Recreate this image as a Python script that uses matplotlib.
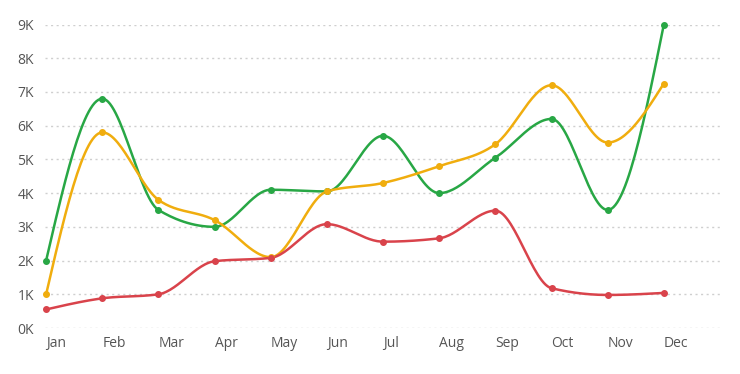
import numpy as np
import matplotlib
matplotlib.use("Agg")
import matplotlib.pyplot as plt

months = ["Jan", "Feb", "Mar", "Apr", "May", "Jun",
          "Jul", "Aug", "Sep", "Oct", "Nov", "Dec"]
green_vals = [2000, 6800, 3500, 3000, 4100, 4050, 5700, 4000, 5050, 6200, 3500, 9000]
orange_vals = [1000, 5800, 3800, 3200, 2100, 4050, 4300, 4800, 5450, 7200, 5500, 7250]
red_vals = [550, 880, 1000, 1980, 2080, 3080, 2560, 2660, 3480, 1180, 980, 1040]
y_ticks = [0, 1000, 2000, 3000, 4000, 5000, 6000, 7000, 8000, 9000]
y_labels = ["0K", "1K", "2K", "3K", "4K", "5K", "6K", "7K", "8K", "9K"]

series = [
    (green_vals, "#28a745"),
    (orange_vals, "#f0ad0e"),
    (red_vals, "#d9434b"),
]


def monotone(x, y, steps=30):
    """Monotone cubic curve through the points (like d3 curveMonotoneX)."""
    x = np.asarray(x, float)
    y = np.asarray(y, float)
    n = len(x)
    h = np.diff(x)
    s = np.diff(y) / h
    t = np.zeros(n)
    for i in range(1, n - 1):
        p = (s[i - 1] * h[i] + s[i] * h[i - 1]) / (h[i - 1] + h[i])
        t[i] = (np.sign(s[i - 1]) + np.sign(s[i])) * min(abs(s[i - 1]), abs(s[i]), 0.5 * abs(p))
    t[0] = (3 * s[0] - t[1]) / 2
    t[-1] = (3 * s[-1] - t[-2]) / 2
    xs, ys = [], []
    for i in range(n - 1):
        u = np.linspace(0, 1, steps)
        h00 = 2 * u ** 3 - 3 * u ** 2 + 1
        h10 = u ** 3 - 2 * u ** 2 + u
        h01 = -2 * u ** 3 + 3 * u ** 2
        h11 = u ** 3 - u ** 2
        xs.append(x[i] + u * h[i])
        ys.append(h00 * y[i] + h10 * h[i] * t[i] + h01 * y[i + 1] + h11 * h[i] * t[i + 1])
    return np.concatenate(xs), np.concatenate(ys)


plt.rcParams["font.family"] = ["Open Sans", "DejaVu Sans"]

fig = plt.figure(figsize=(7.4, 3.74), dpi=100)
ax = fig.add_axes([45 / 740, 46 / 374, 675 / 740, 303.5 / 374])

xpos = np.arange(len(months))
for vals, color in series:
    sx, sy = monotone(xpos, vals)
    ax.plot(sx, sy, color=color, lw=1.8, clip_on=False, zorder=3)
    ax.plot(xpos, vals, "o", color=color, ms=4, clip_on=False, zorder=4)

ax.set_xlim(-0.02, 12)
ax.set_ylim(0, 9000)
ax.set_yticks(y_ticks)
ax.set_yticklabels(y_labels)
ax.set_xticks(xpos)
ax.set_xticklabels(months, ha="left")

for v in y_ticks:
    ax.axhline(v, color="#cfcfcf", lw=1, ls=(0, (1.5, 2.5)), zorder=1)

for sp in ax.spines.values():
    sp.set_visible(False)
ax.tick_params(axis="both", length=0, labelsize=10, colors="#555555")
ax.tick_params(axis="y", pad=8)
ax.tick_params(axis="x", pad=6)

fig.savefig("out.png", dpi=100)
